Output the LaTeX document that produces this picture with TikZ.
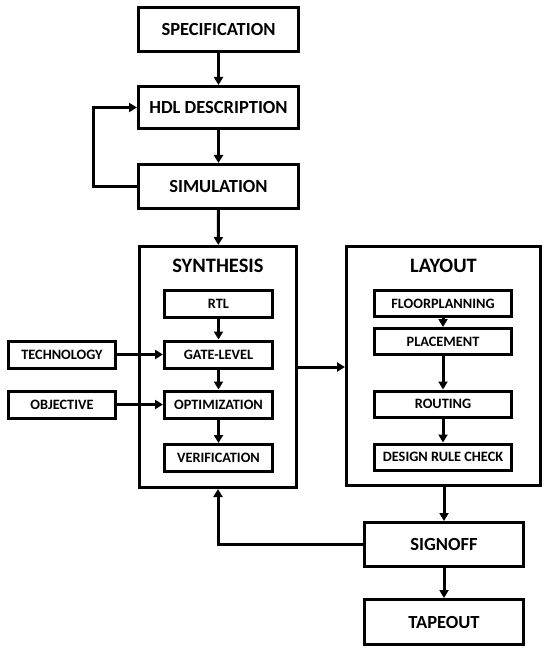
\documentclass[tikz,border=0pt]{standalone}
\usepackage{fontspec}
\setmainfont{Carlito}
\usetikzlibrary{arrows.meta}
\begin{document}
\begin{tikzpicture}[x=1pt,y=-1pt,
  bigbox/.style={draw,line width=3pt,inner sep=0pt,minimum width=160pt,minimum height=44pt,font=\fontsize{18.5}{20}\selectfont\bfseries},
  frame/.style={draw,line width=3pt,inner sep=0pt},
  title/.style={font=\fontsize{20.5}{22}\selectfont\bfseries,inner sep=0pt},
  smallbox/.style={draw,line width=3pt,inner sep=0pt,minimum height=27pt,font=\fontsize{14.3}{16}\selectfont\bfseries},
  arr/.style={line width=3pt,-{Triangle[length=8pt,width=9pt]}},
  ln/.style={line width=3pt}]
\useasboundingbox (0,0) rectangle (550,655);
\node[bigbox] (spec) at (218.5,29.5) {SPECIFICATION};
\node[bigbox,minimum height=42pt] (hdl) at (218.5,107.5) {HDL DESCRIPTION};
\node[bigbox] (sim) at (218.5,186.5) {SIMULATION};
\node[frame,minimum width=157pt,minimum height=241pt] (synth) at (218,367) {};
\node[title] (synt) at (218,266) {SYNTHESIS};
\node[smallbox,minimum width=108pt] (rtl) at (218.5,304) {RTL};
\node[smallbox,minimum width=108pt] (gate) at (218.5,354.5) {GATE-LEVEL};
\node[smallbox,minimum width=108pt] (opt) at (218.5,404.5) {OPTIMIZATION};
\node[smallbox,minimum width=108pt] (ver) at (218.5,458) {VERIFICATION};
\node[smallbox,minimum width=107pt] (tech) at (62,354.5) {TECHNOLOGY};
\node[smallbox,minimum width=107pt] (obj) at (62,404.5) {OBJECTIVE};
\node[frame,minimum width=194pt,minimum height=239pt] (layout) at (443.5,366) {};
\node[title] (layt) at (443.5,266) {LAYOUT};
\node[smallbox,minimum width=137pt,minimum height=26pt] (floor) at (443,303.5) {FLOORPLANNING};
\node[smallbox,minimum width=137pt,minimum height=26pt] (plac) at (443,341.5) {PLACEMENT};
\node[smallbox,minimum width=137pt,minimum height=26pt] (rout) at (443,404) {ROUTING};
\node[smallbox,minimum width=137pt,minimum height=26pt] (drc) at (443,457) {DESIGN RULE CHECK};
\node[bigbox,minimum width=159pt] (sign) at (444,544.5) {SIGNOFF};
\node[bigbox,minimum width=159pt,minimum height=45pt] (tape) at (444,622) {TAPEOUT};
\coordinate (loop) at (93,186.5);
\draw[arr] (spec) -- (hdl);
\draw[arr] (hdl) -- (sim);
\draw[arr] (sim) -- (synth);
\draw[arr] (sim.west) -- (loop) |- (hdl.west);
\draw[arr] (rtl) -- (gate);
\draw[arr] (gate) -- (opt);
\draw[arr] (opt) -- (ver);
\draw[arr] (tech) -- (gate);
\draw[arr] (obj) -- (opt);
\draw[arr] (synth.east) -- (synth.east -| layout.west);
\draw[arr] (floor) -- (plac);
\draw[arr] (plac) -- (rout);
\draw[arr] (rout) -- (drc);
\draw[arr] (layout.south -| sign.north) -- (sign.north);
\draw[arr] (sign.west) -| (synth.south);
\draw[arr] (sign) -- (tape);
\end{tikzpicture}
\end{document}
